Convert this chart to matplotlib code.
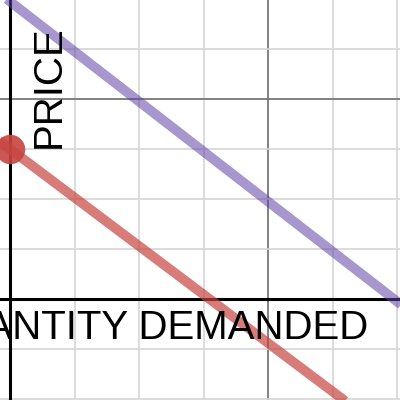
import matplotlib
matplotlib.use("Agg")
import matplotlib.pyplot as plt
import numpy as np

# data
red_intercept = 3.0
red_slope = -0.97
purple_intercept = 5.95
purple_slope = -1.0
point_x = [0.0]
point_y = [3.0]

xmin, xmax = -10/64.5, 390/64.5
ymin, ymax = -101/50, 299/50

fig = plt.figure(figsize=(4, 4), dpi=100)
ax = fig.add_axes([0, 0, 1, 1])
ax.set_xlim(xmin, xmax)
ax.set_ylim(ymin, ymax)
for v in np.arange(-1, 7):
    c, lw = ('#777777', 1.3) if v % 4 == 0 else ('#d6d6d6', 1.2)
    ax.axvline(v, color=c, lw=lw, zorder=0)
for v in np.arange(-2, 7):
    c, lw = ('#777777', 1.3) if v % 4 == 0 else ('#d6d6d6', 1.2)
    ax.axhline(v, color=c, lw=lw, zorder=0)
ax.axvline(0, color='black', lw=2.2, zorder=1)
ax.axhline(0, color='black', lw=2.2, zorder=1)

xs = np.array([xmin - 1, xmax + 1])
ax.plot(xs, red_intercept + red_slope * xs, color='#c74440', alpha=0.7, lw=7, solid_capstyle='butt', zorder=3)
ax.plot(xs, purple_intercept + purple_slope * xs, color='#6042a6', alpha=0.55, lw=7, solid_capstyle='butt', zorder=3)
ax.scatter(point_x, point_y, s=450, color='#c74440', alpha=0.9, zorder=4, linewidths=0)

ax.text(20/64.5, 3.03, 'PRICE', rotation=90, ha='left', va='bottom',
        fontsize=29, family='Liberation Sans', zorder=5)
ax.text(368/64.5 - 10/64.5, (299-327)/50, 'QUANTITY DEMANDED', ha='right', va='center',
        fontsize=29, family='Liberation Sans', zorder=5)
ax.axis('off')
fig.savefig('out.png', dpi=100)
